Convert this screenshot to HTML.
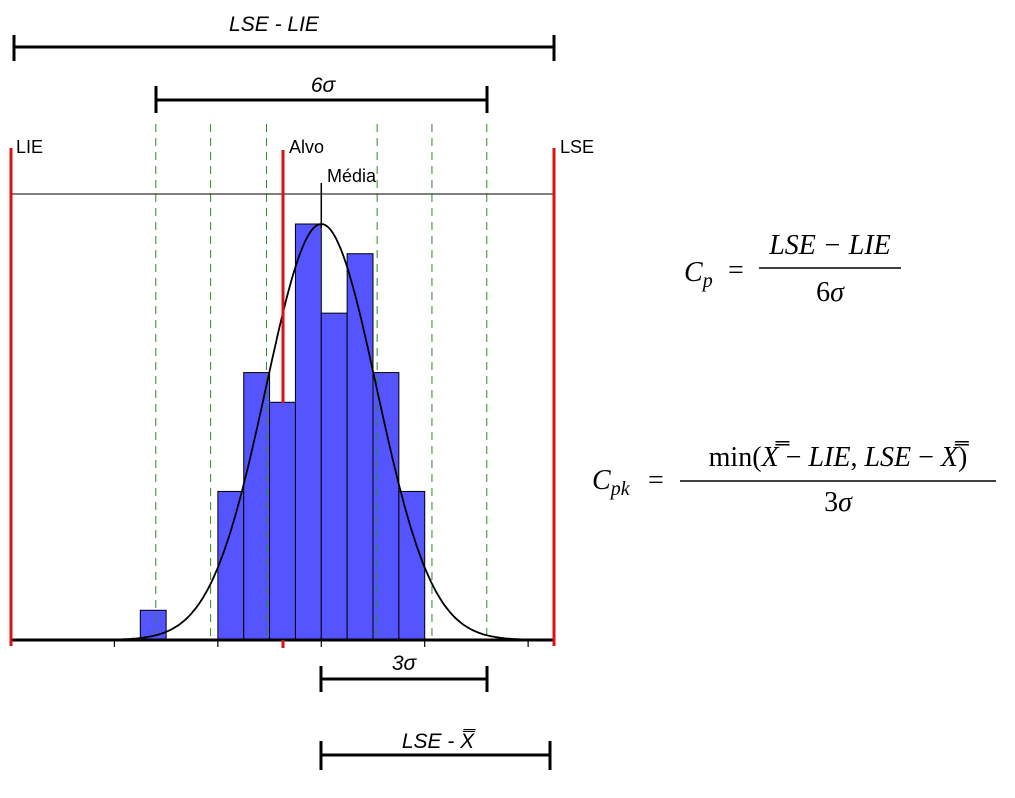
<!DOCTYPE html>
<html><head><meta charset="utf-8"><style>
html,body{margin:0;padding:0;background:#fff;width:1015px;height:798px;overflow:hidden}
svg{display:block}
.hand{font-family:"Liberation Sans",sans-serif;font-size:21px;font-style:italic}
.lab{font-family:"Liberation Sans",sans-serif;font-size:18px}
.math{font-family:"Liberation Serif",serif;font-size:28px}
</style></head><body>
<svg id="chart" width="1015" height="798" viewBox="0 0 1015 798">
<g id="bars"></g>
<g id="grid"></g>
<path id="curve" fill="none" stroke="#000" stroke-width="1.8"/>
<line x1="11" y1="194" x2="554" y2="194" stroke="#000" stroke-width="1"/>
<line x1="11" y1="640" x2="554" y2="640" stroke="#000" stroke-width="3"/>
<g id="ticks"></g>
<line x1="11" y1="148" x2="11" y2="646" stroke="#d11" stroke-width="3"/>
<line x1="554" y1="148" x2="554" y2="646" stroke="#d11" stroke-width="3"/>
<line id="alvo" x1="283" y1="150" x2="283" y2="403" stroke="#d11" stroke-width="3"/>
<line id="alvoTick" x1="283" y1="640" x2="283" y2="648" stroke="#d11" stroke-width="3"/>
<line id="mediaLine" x1="321" y1="183" x2="321" y2="228" stroke="#000" stroke-width="1.5"/>
<text class="lab" x="16" y="153">LIE</text>
<text class="lab" x="560" y="153">LSE</text>
<text class="lab" x="289" y="153">Alvo</text>
<text class="lab" x="327" y="182">Média</text>
<g stroke="#000" stroke-width="3">
<line x1="14" y1="47" x2="554" y2="47"/><line x1="14" y1="35" x2="14" y2="61"/><line x1="554" y1="35" x2="554" y2="61"/></g>
<text class="hand" x="274" y="31" text-anchor="middle">LSE - LIE</text>
<g stroke="#000" stroke-width="3">
<line x1="156" y1="100" x2="487" y2="100"/><line x1="156" y1="86" x2="156" y2="113"/><line x1="487" y1="86" x2="487" y2="113"/></g>
<text class="hand" x="323" y="92" text-anchor="middle">6σ</text>
<g stroke="#000" stroke-width="3">
<line x1="321" y1="679" x2="487" y2="679"/><line x1="321" y1="666" x2="321" y2="692"/><line x1="487" y1="666" x2="487" y2="692"/></g>
<text class="hand" x="404" y="670" text-anchor="middle">3σ</text>
<g stroke="#000" stroke-width="3">
<line x1="321" y1="755" x2="550" y2="755"/><line x1="321" y1="741" x2="321" y2="770"/><line x1="550" y1="741" x2="550" y2="770"/></g>
<text class="hand" x="438" y="748" text-anchor="middle">LSE - X̿</text>
<g>
<text class="math" x="684" y="281" font-style="italic">C<tspan font-size="20" dy="6">p</tspan></text>
<text class="math" x="728" y="279">=</text>
<text class="math" x="830" y="254" text-anchor="middle" font-style="italic">LSE − LIE</text>
<line x1="759" y1="268" x2="901" y2="268" stroke="#000" stroke-width="1.5"/>
<text class="math" x="830" y="301" text-anchor="middle">6<tspan font-style="italic">σ</tspan></text>
</g>
<g>
<text class="math" x="592" y="489" font-style="italic">C<tspan font-size="20" dy="6">pk</tspan></text>
<text class="math" x="648" y="489">=</text>
<text class="math" x="838" y="466" text-anchor="middle">min(<tspan font-style="italic">X̿</tspan> − <tspan font-style="italic">LIE</tspan>, <tspan font-style="italic">LSE</tspan> − <tspan font-style="italic">X̿</tspan>)</text>
<line x1="680" y1="481" x2="996" y2="481" stroke="#000" stroke-width="1.5"/>
<text class="math" x="838" y="511" text-anchor="middle">3<tspan font-style="italic">σ</tspan></text>
</g>
</svg>
<script>
const binStarts=[1.25,2.0,2.25,2.5,2.75,3.0,3.25,3.5,3.75];
const binCounts=[1,5,9,8,14,11,13,9,5];
const sigmaLines=[1.40,1.93,2.47,3.54,4.07,4.60];
const tickValues=[1,2,3,4,5];
const mean=3.0, sigma=0.535, peakCount=14, target=2.63;
const binWidth=0.25;
const X0=11,X1=554,D0=0,D1=5.25;
const x=v=>X0+(v-D0)/(D1-D0)*(X1-X0);
const base=640, unit=(640-224)/14;
const y=c=>base-c*unit;
const NS='http://www.w3.org/2000/svg';
const bars=document.getElementById('bars');
binStarts.forEach((s,i)=>{
 const r=document.createElementNS(NS,'rect');
 
 
 r.setAttribute('x',x(s));r.setAttribute('width',x(s+binWidth)-x(s));
 r.setAttribute('y',y(binCounts[i]));r.setAttribute('height',base-y(binCounts[i]));
 r.setAttribute('fill','#5555ff');r.setAttribute('stroke','#000');r.setAttribute('stroke-width','1');
 bars.appendChild(r);
});
const grid=document.getElementById('grid');
sigmaLines.forEach(v=>{
 const l=document.createElementNS(NS,'line');
 
 
 l.setAttribute('x1',x(v));l.setAttribute('x2',x(v));l.setAttribute('y1',124);l.setAttribute('y2',640);
 l.setAttribute('stroke','#2a8a2a');l.setAttribute('stroke-dasharray','8,6');l.setAttribute('stroke-width','1');
 grid.appendChild(l);
});
const ticks=document.getElementById('ticks');
tickValues.forEach(v=>{
 const l=document.createElementNS(NS,'line');
 
 
 l.setAttribute('x1',x(v));l.setAttribute('x2',x(v));l.setAttribute('y1',640);l.setAttribute('y2',647);
 l.setAttribute('stroke','#000');l.setAttribute('stroke-width','1.2');
 ticks.appendChild(l);
});
['alvo','alvoTick'].forEach(id=>{const e=document.getElementById(id);e.setAttribute('x1',x(target));e.setAttribute('x2',x(target));});
const ml=document.getElementById('mediaLine');ml.setAttribute('x1',x(mean));ml.setAttribute('x2',x(mean));
let d='';
for(let v=D0;v<=D1+1e-9;v+=0.02){
 const c=peakCount*Math.exp(-0.5*((v-mean)/sigma)**2);
 d+=(d?'L':'M')+x(v).toFixed(1)+','+y(c).toFixed(1);
}
document.getElementById('curve').setAttribute('d',d);
</script>
</body></html>
